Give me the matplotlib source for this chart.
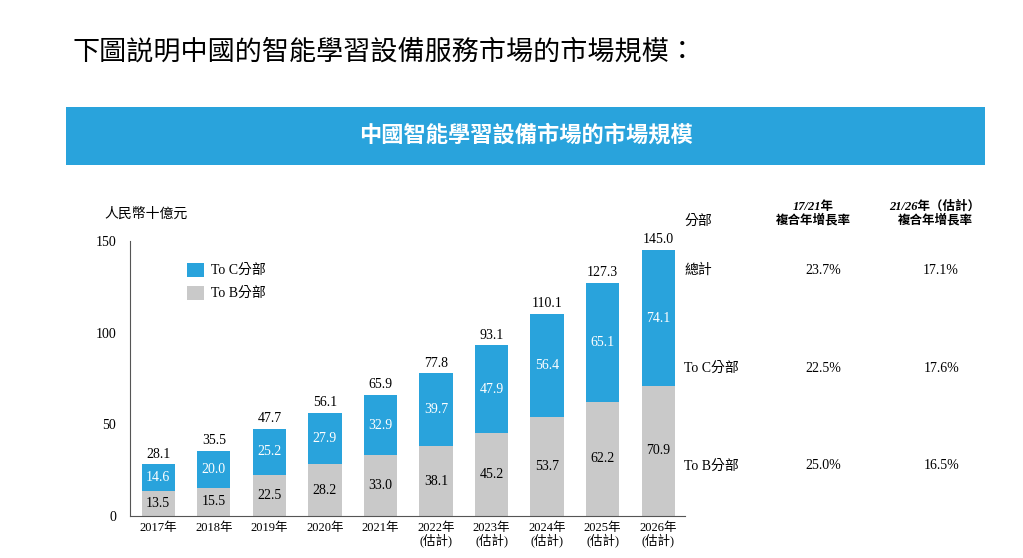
import matplotlib
matplotlib.use("Agg")
import matplotlib.pyplot as plt
from matplotlib.patches import Rectangle

plt.rcParams['font.family'] = ['Liberation Serif', 'Noto Sans CJK TC', 'DejaVu Sans']

years = ['2017年', '2018年', '2019年', '2020年', '2021年', '2022年\n(估計)', '2023年\n(估計)',
         '2024年\n(估計)', '2025年\n(估計)', '2026年\n(估計)']
to_b = [13.5, 15.5, 22.5, 28.2, 33.0, 38.1, 45.2, 53.7, 62.2, 70.9]
to_c = [14.6, 20.0, 25.2, 27.9, 32.9, 39.7, 47.9, 56.4, 65.1, 74.1]
totals = [28.1, 35.5, 47.7, 56.1, 65.9, 77.8, 93.1, 110.1, 127.3, 145.0]
row_names = ['總計', 'To C分部', 'To B分部']
cagr_17_21 = ['23.7%', '22.5%', '25.0%']
cagr_21_26 = ['17.1%', '17.6%', '16.5%']

blue = '#29A3DC'
gray = '#C9C9C9'

fig = plt.figure(figsize=(10.23, 5.58), dpi=100)
fig.text(0.071, 0.905, '下圖説明中國的智能學習設備服務市場的市場規模：', fontsize=19.5,
         va='center', fontweight='light')
fig.patches.append(Rectangle((0.065, 0.704), 0.898, 0.104, transform=fig.transFigure,
                             facecolor=blue, edgecolor='none'))
fig.text(0.514, 0.757, '中國智能學習設備市場的市場規模', fontsize=16, color='white',
         fontweight='bold', ha='center', va='center')

ax = fig.add_axes([0.127, 0.0753, 0.543, 0.493])
x = list(range(len(years)))
ax.bar(x, to_b, width=0.6, color=gray)
ax.bar(x, to_c, bottom=to_b, width=0.6, color=blue)
for i in x:
    ax.text(i, to_b[i] / 2, f'{to_b[i]:.1f}', ha='center', va='center', fontsize=10)
    ax.text(i, to_b[i] + to_c[i] / 2, f'{to_c[i]:.1f}', ha='center', va='center',
            fontsize=10, color='white')
    ax.text(i, totals[i] + 2, f'{totals[i]:.1f}', ha='center', va='bottom', fontsize=10)
ax.set_xlim(-0.51, 9.49)
ax.set_ylim(0, 150)
ax.set_yticks([0, 50, 100, 150])
ax.set_xticks(x)
ax.set_xticklabels(years, fontsize=9, linespacing=1.0)
ax.tick_params(axis='y', labelsize=10, length=0, pad=10)
ax.tick_params(axis='x', length=0, pad=4)
for s in ['top', 'right']:
    ax.spines[s].set_visible(False)
ax.spines['left'].set_color('#555555')
ax.spines['bottom'].set_color('#555555')
ax.spines['left'].set_linewidth(0.8)
ax.spines['bottom'].set_linewidth(0.8)

fig.text(0.102, 0.616, '人民幣十億元', fontsize=10, va='center')
fig.patches.append(Rectangle((0.183, 0.503), 0.016, 0.026, transform=fig.transFigure,
                             facecolor=blue, edgecolor='none'))
fig.patches.append(Rectangle((0.183, 0.462), 0.016, 0.026, transform=fig.transFigure,
                             facecolor=gray, edgecolor='none'))
fig.text(0.206, 0.516, 'To C分部', fontsize=10, va='center')
fig.text(0.206, 0.475, 'To B分部', fontsize=10, va='center')

# right-hand table
fig.text(0.669, 0.603, '分部', fontsize=10, fontstyle='italic', va='center')
fig.text(0.795, 0.617, '17/21年\n複合年增長率', fontsize=9, fontweight='bold', fontstyle='italic',
         ha='center', va='center', linespacing=1.1)
fig.text(0.914, 0.617, '21/26年（估計）\n複合年增長率', fontsize=9, fontweight='bold',
         fontstyle='italic', ha='center', va='center', linespacing=1.1)
row_y = [0.516, 0.340, 0.165]
for name, a, b, y in zip(row_names, cagr_17_21, cagr_21_26, row_y):
    fig.text(0.669, y, name, fontsize=10, va='center')
    fig.text(0.805, y, a, fontsize=10, va='center', ha='center')
    fig.text(0.920, y, b, fontsize=10, va='center', ha='center')

fig.savefig('out.png', dpi=100)
